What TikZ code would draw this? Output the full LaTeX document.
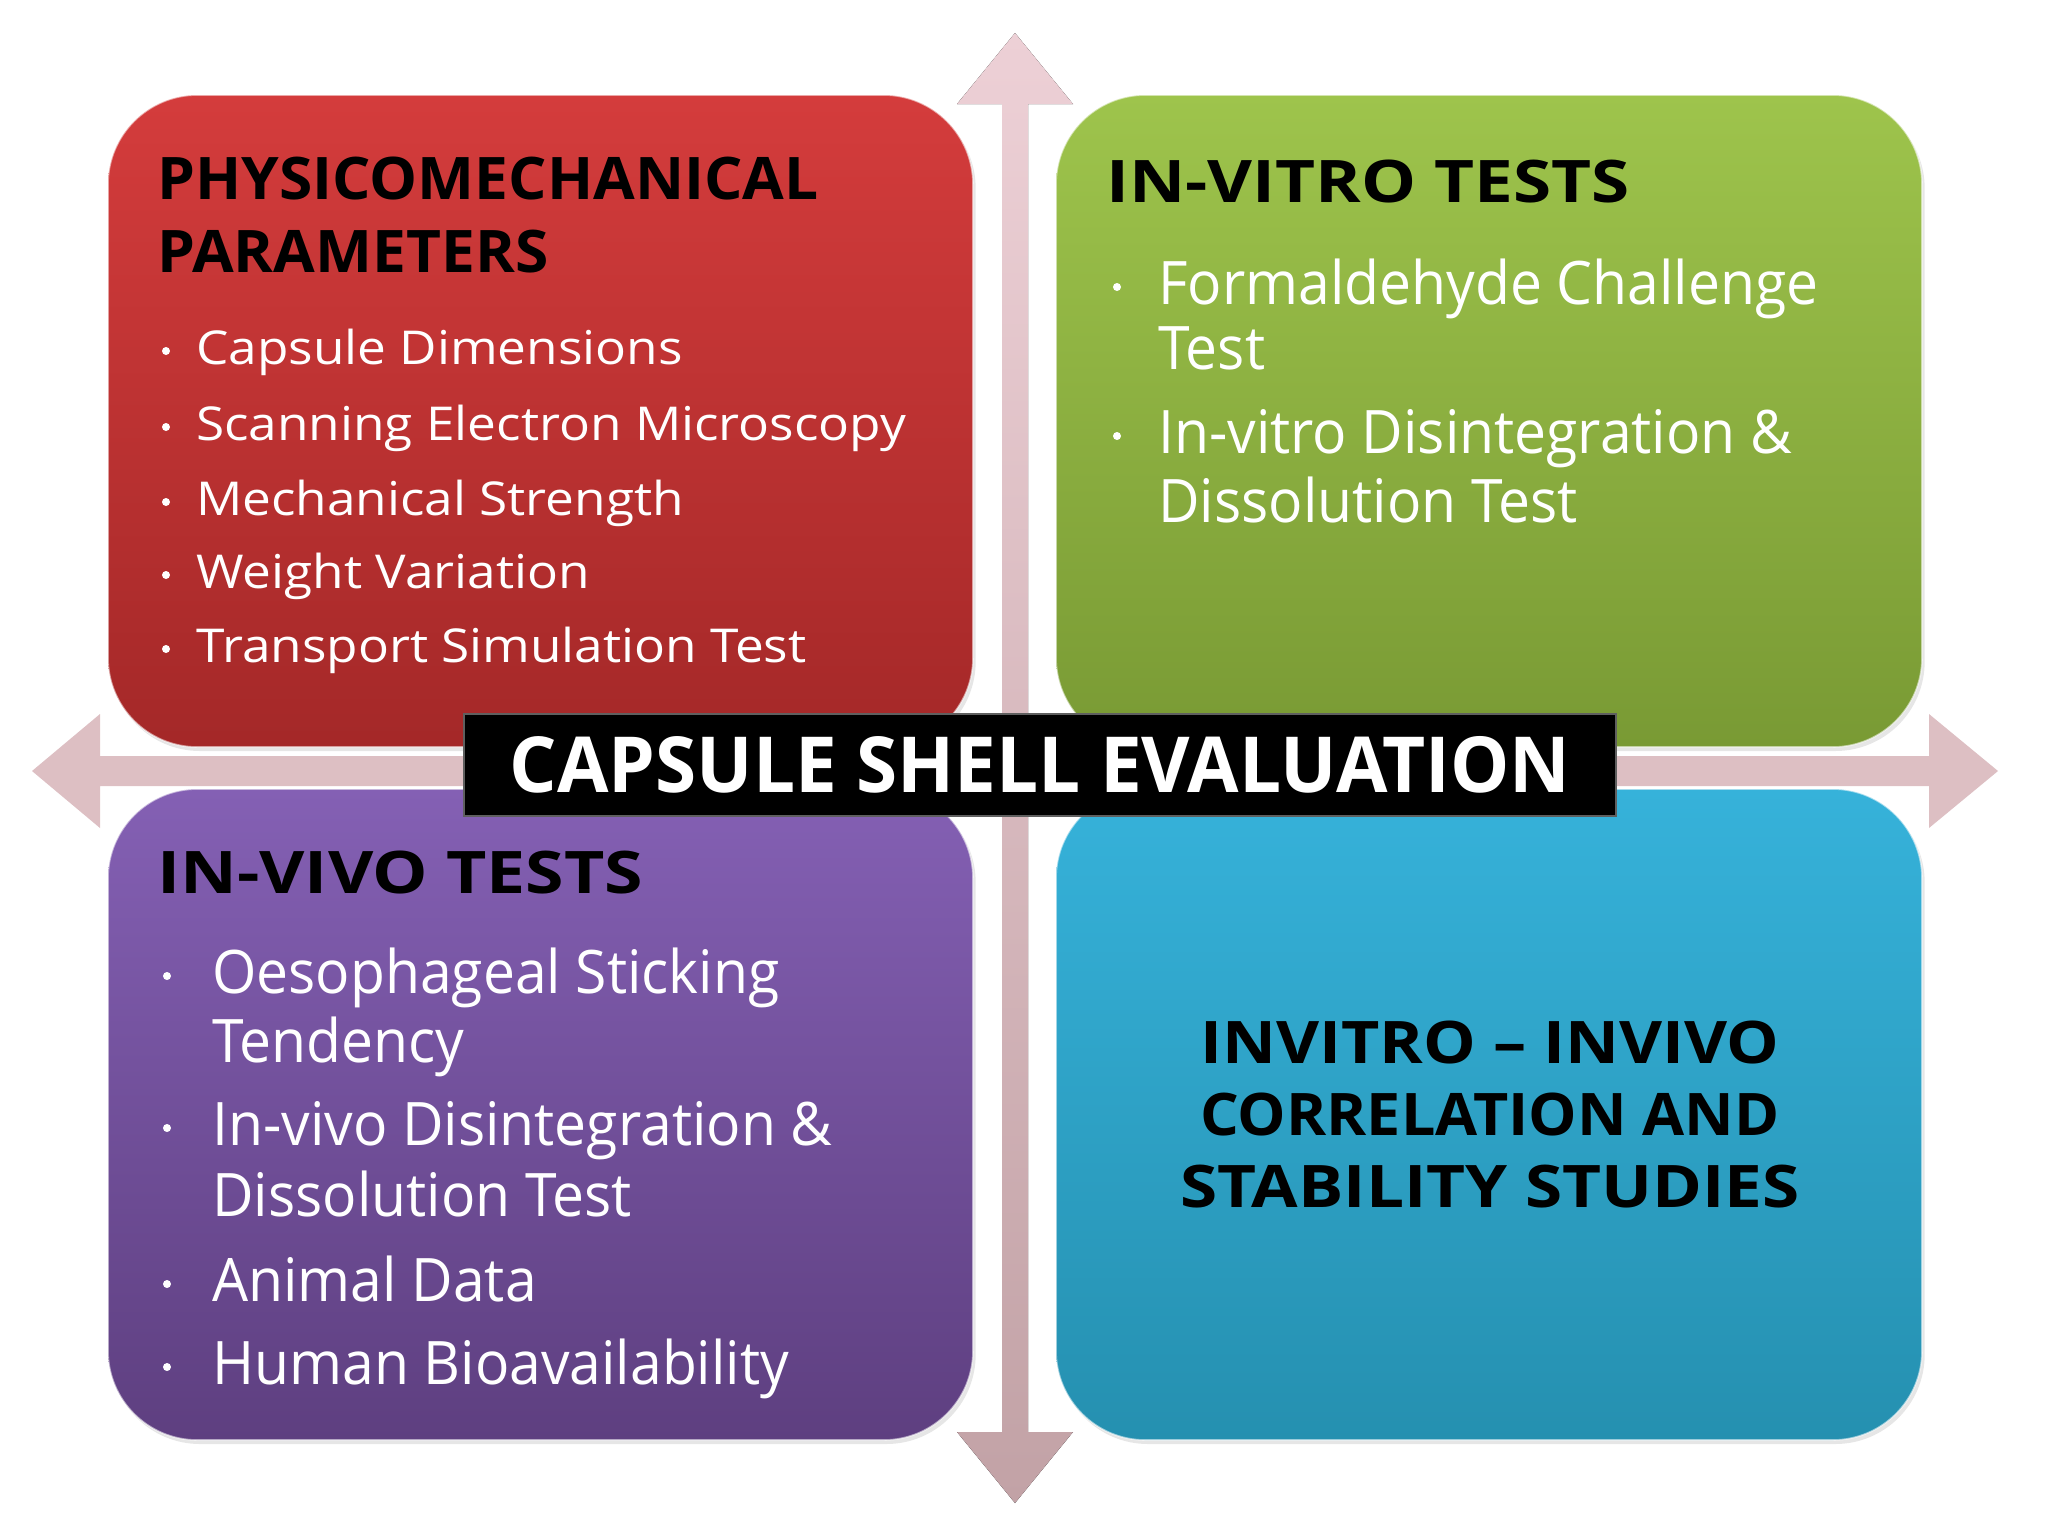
\documentclass[tikz,border=0pt]{standalone}
\usepackage{fontspec}
\setmainfont{Open Sans}
\usetikzlibrary{shadows}
\definecolor{redtop}{HTML}{D43C3C}
\definecolor{redbot}{HTML}{A42828}
\definecolor{greentop}{HTML}{9EC44C}
\definecolor{greenbot}{HTML}{799A34}
\definecolor{violettop}{HTML}{8460B4}
\definecolor{violetbot}{HTML}{5E3F80}
\definecolor{tealtop}{HTML}{36B2DA}
\definecolor{tealbot}{HTML}{2590B0}
\definecolor{arrowtop}{HTML}{EDD0D6}
\definecolor{arrowbot}{HTML}{C2A2A6}
\definecolor{arrowmid}{HTML}{DDBFC3}

\begin{document}
\begin{tikzpicture}[x=0.75pt,y=0.75pt,yscale=-1,xscale=1,
	panel/.style={rounded corners=67pt, draw=white, draw opacity=0.55, line width=1.2pt, drop shadow={opacity=0.2, shadow xshift=2pt, shadow yshift=-3pt}},
	head/.style={anchor=base west, inner sep=0pt, font=\fontsize{44}{52}\selectfont\bfseries\addfontfeatures{FakeStretch=#1}},
	head/.default=1.03,
	item/.style={anchor=base west, inner sep=0pt, text=white, font=\fontsize{45}{52}\selectfont\addfontfeatures{FakeStretch=0.95}},
	smallitem/.style={item, font=\fontsize{35}{42}\selectfont\addfontfeatures{FakeStretch=1.1}},
	dot/.style={circle, fill=white, inner sep=0pt, minimum size=6pt}]
	% frame
	\useasboundingbox (0,0) rectangle (2048,1536);
	% cross of arrows
	\fill [arrowmid] (32,771) -- (100,714) -- (100,756) -- (1929,756) -- (1929,714) -- (1998,771) -- (1929,828) -- (1929,786) -- (100,786) -- (100,828) -- cycle ;
	\fill [top color=arrowtop, bottom color=arrowbot] (1015,33) -- (1073,104) -- (1028,104) -- (1028,1432) -- (1073,1432) -- (1015,1503) -- (957,1432) -- (1002,1432) -- (1002,104) -- (957,104) -- cycle ;
	% panels
	\draw [panel, top color=redtop, bottom color=redbot] (108,95) rectangle (973,747) ;
	\draw [panel, top color=greentop, bottom color=greenbot] (1056,95) rectangle (1922,747) ;
	\draw [panel, top color=violettop, bottom color=violetbot] (108,789) rectangle (973,1440) ;
	\draw [panel, top color=tealtop, bottom color=tealbot] (1056,789) rectangle (1922,1440) ;
	% physicomechanical
	\node [head] (physhead) at (157,199) {PHYSICOMECHANICAL};
	\node [head] (paramhead) at (157,272) {PARAMETERS};
	\foreach \txt/\yb [count=\i] in {Capsule Dimensions/364, Scanning Electron Microscopy/440, Mechanical Strength/515, Weight Variation/588, Transport Simulation Test/662}
	{
		\node [smallitem] (phys\i) at (196,\yb) {\txt};
		\node [dot] (physdot\i) at (166,\yb-13) {};
	}
	% in-vitro
	\node [head=1.18] (vitrohead) at (1106,202) {IN-VITRO TESTS};
	\node [item] (vitro1) at (1158,304) {Formaldehyde Challenge};
	\node [item] (vitro1b) at (1158,369) {Test};
	\node [item] (vitro2) at (1158,453) {In-vitro Disintegration \&};
	\node [item] (vitro2b) at (1158,522) {Dissolution Test};
	\node [dot] (vitrodot1) at (1117,287) {};
	\node [dot] (vitrodot2) at (1117,436) {};
	% in-vivo
	\node [head=1.19] (vivohead) at (157,893) {IN-VIVO TESTS};
	\node [item] (vivo1) at (212,993) {Oesophageal Sticking};
	\node [item] (vivo1b) at (212,1062) {Tendency};
	\node [item] (vivo2) at (212,1145) {In-vivo Disintegration \&};
	\node [item] (vivo2b) at (212,1216) {Dissolution Test};
	\node [item] (vivo3) at (212,1301) {Animal Data};
	\node [item] (vivo4) at (212,1384) {Human Bioavailability};
	\foreach \yb [count=\i] in {993,1145,1301,1384}
		\node [dot] (vivodot\i) at (167,\yb-17) {};
	% correlation
	\node [head=1.13, anchor=base] (corr1) at (1490,1063) {INVITRO – INVIVO};
	\node [head=1.04, anchor=base] (corr2) at (1490,1135) {CORRELATION AND};
	\node [head=1.15, anchor=base] (corr3) at (1490,1207) {STABILITY STUDIES};
	% title bar
	\node [fill=black, draw={rgb, 255:red, 95; green, 95; blue, 95 }, line width=1.5pt, minimum width=864pt, minimum height=77pt, inner sep=0pt, text=white, font=\fontsize{58}{64}\selectfont\bfseries\addfontfeatures{FakeStretch=0.965}] (title) at (1040,765) {CAPSULE SHELL EVALUATION};
\end{tikzpicture}
\end{document}
